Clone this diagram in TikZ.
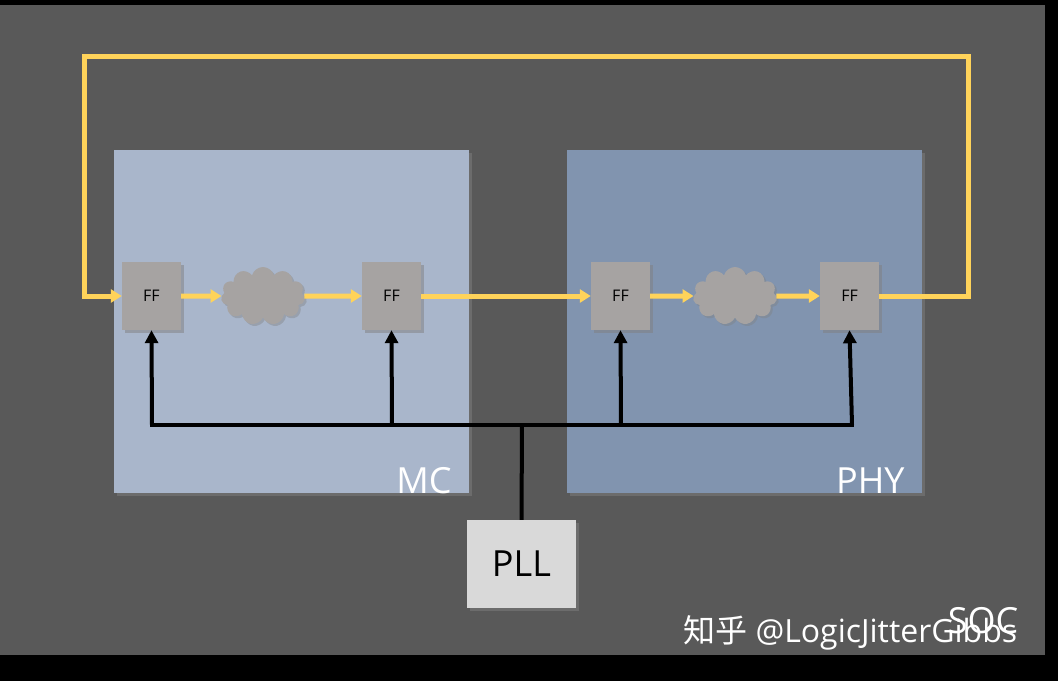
\documentclass[tikz,border=0pt]{standalone}
\usepackage{fontspec}
\setmainfont{Open Sans}
\newfontfamily\cjk{Noto Sans CJK SC}
\usetikzlibrary{shapes.symbols,arrows.meta,shadows}
\definecolor{bg}{HTML}{595959}
\definecolor{mcc}{HTML}{A9B6CB}
\definecolor{phyc}{HTML}{8194AF}
\definecolor{ffc}{HTML}{A6A3A2}
\definecolor{yel}{HTML}{FFD35A}
\definecolor{pllc}{HTML}{D9D9D9}
\tikzset{
 x=1pt,y=-1pt,
 blk/.style={draw=none,anchor=north west,inner sep=0,drop shadow={shadow xshift=3pt,shadow yshift=-3pt,opacity=.5}},
 ff/.style={fill=ffc,minimum width=59pt,minimum height=68pt,inner sep=0,font=\fontsize{16}{16}\selectfont,drop shadow={shadow xshift=3pt,shadow yshift=-3pt,opacity=.5}},
 cl/.style={cloud,cloud puffs=11,fill=ffc,minimum width=84pt,minimum height=58pt,inner sep=0,aspect=1.5,drop shadow={shadow xshift=2pt,shadow yshift=-2pt,opacity=.4}},
 ya/.style={yel,line width=5pt,-{Triangle[length=11pt,width=13pt]}},
 yl/.style={yel,line width=5pt},
 ck/.style={black,line width=4pt,-{Triangle[length=13pt,width=13pt]}},
 cw/.style={black,line width=4pt},
 big/.style={font=\fontsize{36}{36}\selectfont,text=white}
}
\begin{document}
\begin{tikzpicture}
\fill[black] (0,0) rectangle (1058,681);
\fill[bg] (0,5) rectangle (1045,655);
\node[blk,fill=mcc,minimum width=355pt,minimum height=343pt] (mc) at (114,150) {};
\node[blk,fill=phyc,minimum width=355pt,minimum height=343pt] (phy) at (567,150) {};
\node[big,anchor=base east] (mct) at (455,493) {MC};
\node[big,anchor=base east] (phyt) at (908,493) {PHY};
\node[ff] (f1) at (151.5,296) {FF};
\node[ff] (f2) at (391.5,296) {FF};
\node[ff] (f3) at (620.5,296) {FF};
\node[ff] (f4) at (849.5,296) {FF};
\node[cl] (c1) at (263,296) {};
\node[cl] (c2) at (735,296) {};
\node[fill=pllc,minimum width=109pt,minimum height=88pt,inner sep=0,font=\fontsize{36}{36}\selectfont,drop shadow={shadow xshift=3pt,shadow yshift=-3pt,opacity=.5}] (pll) at (521.5,564) {PLL};
\draw[ya] (f1.east) -- (c1.west);
\draw[ya] (c1.east) -- (f2.west);
\draw[ya] (f2.east) -- (f3.west);
\draw[ya] (f3.east) -- (c2.west);
\draw[ya] (c2.east) -- (f4.west);
\coordinate (r1) at (968,296);
\coordinate (r2) at (968,56);
\coordinate (l1) at (84,56);
\coordinate (l2) at (84,296);
\draw[yl] (f4.east) -- (r1) -- (r2) -- (l1) -- (l2);
\draw[ya] (82,296) -- (f1.west);
\coordinate (j) at (522,425);
\coordinate (h1) at (152,425);
\coordinate (h4) at (852,425);
\draw[cw] (pll.north) -- (j);
\draw[cw] (150,425) -- (854,425);
\draw[ck] (h1) -- (f1.south);
\draw[ck] (392,425) -- (f2.south);
\draw[ck] (621,425) -- (f3.south);
\draw[ck] (h4) -- (f4.south);
\node[big,anchor=base] (soc) at (983,633) {SOC};
\node[anchor=base west,text=white,font=\fontsize{32}{32}\selectfont,inner sep=0] (wm) at (683,642) {{\cjk 知乎} @LogicJitterGibbs};
\end{tikzpicture}
\end{document}
